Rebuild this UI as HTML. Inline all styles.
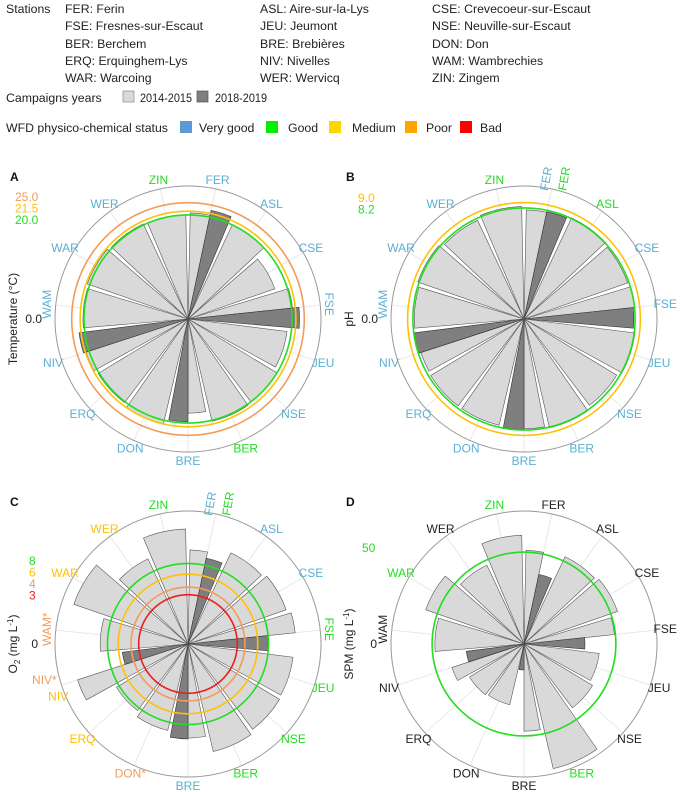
<!DOCTYPE html>
<html><head><meta charset="utf-8"><style>
html,body{margin:0;padding:0;background:#fff;}
svg{display:block;font-family:"Liberation Sans",Arial,sans-serif;}
</style></head><body>
<svg id="fig" width="685" height="792" viewBox="0 0 685 792">
<g font-size="12.3" fill="#222">
<text x="6" y="13">Stations</text>
<text x="65" y="13">FER: Ferin</text>
<text x="65" y="30">FSE: Fresnes-sur-Escaut</text>
<text x="65" y="48">BER: Berchem</text>
<text x="65" y="65">ERQ: Erquinghem-Lys</text>
<text x="65" y="82">WAR: Warcoing</text>
<text x="260" y="13">ASL: Aire-sur-la-Lys</text>
<text x="260" y="30">JEU: Jeumont</text>
<text x="260" y="48">BRE: Brebières</text>
<text x="260" y="65">NIV: Nivelles</text>
<text x="260" y="82">WER: Wervicq</text>
<text x="432" y="13">CSE: Crevecoeur-sur-Escaut</text>
<text x="432" y="30">NSE: Neuville-sur-Escaut</text>
<text x="432" y="48">DON: Don</text>
<text x="432" y="65">WAM: Wambrechies</text>
<text x="432" y="82">ZIN: Zingem</text>
<text x="6" y="102">Campaigns years</text>
<rect x="123" y="91" width="11" height="11" fill="#d9d9d9" stroke="#888" stroke-width="0.7"/>
<text x="140" y="102" textLength="52" lengthAdjust="spacingAndGlyphs">2014-2015</text>
<rect x="197" y="91" width="11" height="11" fill="#7f7f7f" stroke="#555" stroke-width="0.7"/>
<text x="215" y="102" textLength="52" lengthAdjust="spacingAndGlyphs">2018-2019</text>
<text x="6" y="132">WFD physico-chemical status</text>
<rect x="180" y="121" width="12" height="12" fill="#5b9bd5"/>
<text x="199" y="132">Very good</text>
<rect x="266" y="121" width="12" height="12" fill="#00ee00"/>
<text x="288" y="132">Good</text>
<rect x="329" y="121" width="12" height="12" fill="#ffd700"/>
<text x="352" y="132">Medium</text>
<rect x="405" y="121" width="12" height="12" fill="#ffa500"/>
<text x="426" y="132">Poor</text>
<rect x="460" y="121" width="12" height="12" fill="#ff0000"/>
<text x="480" y="132">Bad</text>
</g>
</svg>
<script>
const stations = ["FER","ASL","CSE","FSE","JEU","NSE","BER","BRE","DON","ERQ","NIV","WAM","WAR","WER","ZIN"];
// values per station (null = not sampled)
const tempLight = [20.8,20,15.6,20.4,18.4,20,20.4,16.4,21.5,20.4,21.2,20.4,21,20.4,20];
const tempDark  = [22.8,null,null,23,null,null,null,19.5,null,null,22.3,null,null,null,null];
const phLight = [7.9,8.3,8.0,8.2,8.3,7.8,8.3,8.0,7.9,7.9,7.8,8.0,8.4,7.9,8.4];
const phDark  = [8.0,null,null,8.0,null,null,null,8.1,null,null,8.2,null,null,null,null];
const o2Light = [10.9,12.5,13.3,14.3,13.8,14.1,15,10.9,9.7,8.6,16.6,9.5,18,10.9,16.3];
const o2Dark  = [9.5,null,null,7.9,null,null,null,11.1,null,null,5.4,null,null,null,null];
const spmLight = [52,55,58,49,34,38,97,45,23,24,34,47,64,45,70];
const spmDark  = [30,null,null,22,null,null,null,4,null,null,20,null,null,null,null];
const tempThresholds = [25.0,21.5,20.0];
const phThresholds = [9.0,8.2];
const o2Thresholds = [8,6,4,3];
const spmThresholds = [50];

const NS="http://www.w3.org/2000/svg";
const svg=document.getElementById('fig');
const BLUE="#5ab0d2",GREEN="#22dd22",YEL="#ffc107",ORA="#f39c5a",RED="#ee1c1c",BLK="#222";
function mk(tag,attrs,parent){const e=document.createElementNS(NS,tag);for(const k in attrs)e.setAttribute(k,attrs[k]);(parent||svg).appendChild(e);return e;}
function pt(cx,cy,r,deg){const a=deg*Math.PI/180;return [cx+r*Math.sin(a),cy-r*Math.cos(a)];}
function wedge(cx,cy,r,a0,a1){const p0=pt(cx,cy,r,a0),p1=pt(cx,cy,r,a1);return `M${cx},${cy}L${p0[0]},${p0[1]}A${r},${r} 0 0 1 ${p1[0]},${p1[1]}Z`;}

function panel(o){
  const g=mk('g',{});
  
  
  const R=133, cx=o.cx, cy=o.cy;
  const rs=v=>R*Math.sqrt(v/o.vmax);
  const step=360/stations.length;
  stations.forEach((s,i)=>{const p=pt(cx,cy,R,(i+0.5)*step);
    const l=mk('line',{x1:cx,y1:cy,x2:p[0],y2:p[1],stroke:"#e3e3e3","stroke-width":0.8},g);
    
    });
  const oc=mk('circle',{cx:cx,cy:cy,r:R,fill:"none",stroke:"#999","stroke-width":1},g);
  
  
  stations.forEach((s,i)=>{
    const c0=i*step+step*0.05, c1=(i+1)*step-step*0.05;
    const hasDark=o.dark[i]!=null;
    const mid=(c0+c1)/2;
    if(o.light[i]!=null){
      const b=mk('path',{d:wedge(cx,cy,rs(o.light[i]),c0,hasDark?mid:c1),fill:"#d9d9d9",stroke:"#555","stroke-width":0.6},g);
      
      
    }
    if(hasDark){
      const b=mk('path',{d:wedge(cx,cy,rs(o.dark[i]),mid,c1),fill:"#7f7f7f",stroke:"#333","stroke-width":0.6},g);
      
      
    }
  });
  o.th.forEach((v,j)=>{
    const c=mk('circle',{cx:cx,cy:cy,r:rs(v),fill:"none",stroke:o.thCol[j],"stroke-width":1.6},g);
    
    
    const t=mk('text',{x:o.thX,y:o.thY+j*11.5,fill:o.thCol[j],"font-size":12},g);
    t.textContent=o.thFmt(v);
    
    
  });
  o.labels.forEach(L=>{
    const p=pt(cx,cy,L.r||142,L.a);
    const t=mk('text',{x:p[0],y:p[1],fill:L.c,"font-size":12,"text-anchor":"middle","dominant-baseline":"central",transform:L.rot?`rotate(${L.rot} ${p[0]} ${p[1]})`:""},g);
    t.textContent=L.t;
    
    
  });
  const pl=mk('text',{x:o.cx-178,y:o.cy-138,"font-size":12,"font-weight":"bold",fill:"#111"},g);
  pl.textContent=o.letter;
  
  
  const z=mk('text',{x:o.zeroX,y:cy,"font-size":12,fill:BLK,"text-anchor":"end","dominant-baseline":"central"},g);
  z.textContent=o.zero;
  
  
  const yt=mk('text',{x:o.titleX,y:cy,"font-size":12,fill:BLK,"text-anchor":"middle",transform:`rotate(-90 ${o.titleX} ${cy})`},g);
  yt.innerHTML=o.title;
  
  
}
const step=24, A=i=>(i+0.5)*step;
function lab(colors,extra){
  const out=[];
  stations.forEach((s,i)=>{ if(colors[i]) out.push({t:s,a:A(i),c:colors[i],rot:(extra.rot||{})[s]||0}); });
  return out.concat(extra.more||[]);
}
const B=BLUE;
panel({name:'panel-a-temperature',letter:'A',cx:188,cy:319,vmax:32.7,light:tempLight,dark:tempDark,
  th:tempThresholds,thCol:[ORA,YEL,GREEN],thX:15,thY:201,thFmt:v=>v.toFixed(1),zero:'0.0',zeroX:42,titleX:17,title:'Temperature (°C)',
  labels:lab([B,B,B,B,B,B,GREEN,B,B,B,B,B,B,B,GREEN],{rot:{FSE:90,WAM:-90}})});
panel({name:'panel-b-ph',letter:'B',cx:524,cy:319,vmax:11.75,light:phLight,dark:phDark,
  th:phThresholds,thCol:[YEL,GREEN],thX:358,thY:202,thFmt:v=>v.toFixed(1),zero:'0.0',zeroX:378,titleX:353,title:'pH',
  labels:lab([null,GREEN,B,B,B,B,B,B,B,B,B,B,B,B,GREEN],{rot:{WAM:-90},more:[{t:'FER',a:9,c:B,rot:-80},{t:'FER',a:16,c:GREEN,rot:-80,r:146}]})});
panel({name:'panel-c-oxygen',letter:'C',cx:188,cy:644,vmax:21.8,light:o2Light,dark:o2Dark,
  th:o2Thresholds,thCol:[GREEN,YEL,ORA,RED],thX:29,thY:565,thFmt:v=>String(v),zero:'0',zeroX:38,titleX:17,title:'O<tspan font-size="8" dy="3">2</tspan><tspan dy="-3"> (mg L</tspan><tspan font-size="8" dy="-4">-1</tspan><tspan dy="4">)</tspan>',
  labels:lab([null,B,B,GREEN,GREEN,GREEN,GREEN,B,null,YEL,null,null,YEL,YEL,GREEN],{rot:{FSE:90},more:[
    {t:'FER',a:9,c:B,rot:-80},{t:'FER',a:16,c:GREEN,rot:-80,r:146},
    {t:'DON*',a:204,c:ORA},{t:'NIV*',a:256,c:ORA,r:148},{t:'NIV',a:248,c:YEL,r:140},{t:'WAM*',a:276,c:ORA,rot:-90}]})});
panel({name:'panel-d-spm',letter:'D',cx:524,cy:644,vmax:104.7,light:spmLight,dark:spmDark,
  th:spmThresholds,thCol:[GREEN],thX:362,thY:552,thFmt:v=>String(v),zero:'0',zeroX:377,titleX:353,title:'SPM (mg L<tspan font-size="8" dy="-4">-1</tspan><tspan dy="4">)</tspan>',
  labels:lab([BLK,BLK,BLK,BLK,BLK,BLK,GREEN,BLK,BLK,BLK,BLK,BLK,GREEN,BLK,GREEN],{rot:{WAM:-90}})});
</script>
</body></html>
